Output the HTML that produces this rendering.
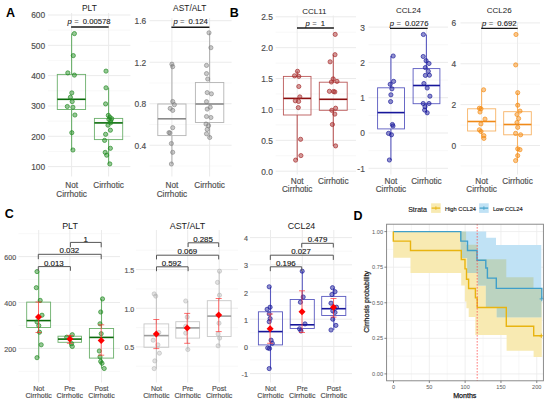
<!DOCTYPE html><html><head><meta charset="utf-8"><style>html,body{margin:0;padding:0;background:#fff;}svg{display:block;}text{font-family:"Liberation Sans", sans-serif;}</style></head><body>
<svg width="550" height="405" viewBox="0 0 550 405">
<rect width="550" height="405" fill="#fff"/>
<text x="6.0" y="16.8" font-size="12.5" text-anchor="start" fill="#000" font-weight="bold" font-style="normal" >A</text>
<text x="229.8" y="17.3" font-size="12.5" text-anchor="start" fill="#000" font-weight="bold" font-style="normal" >B</text>
<text x="4.8" y="218.0" font-size="12.5" text-anchor="start" fill="#000" font-weight="bold" font-style="normal" >C</text>
<text x="353.6" y="219.6" font-size="12.5" text-anchor="start" fill="#000" font-weight="bold" font-style="normal" >D</text>
<line x1="48" y1="151.44" x2="130.4" y2="151.44" stroke="#f4f4f4" stroke-width="0.6" />
<line x1="48" y1="121.12" x2="130.4" y2="121.12" stroke="#f4f4f4" stroke-width="0.6" />
<line x1="48" y1="90.80000000000001" x2="130.4" y2="90.80000000000001" stroke="#f4f4f4" stroke-width="0.6" />
<line x1="48" y1="60.480000000000004" x2="130.4" y2="60.480000000000004" stroke="#f4f4f4" stroke-width="0.6" />
<line x1="48" y1="30.160000000000004" x2="130.4" y2="30.160000000000004" stroke="#f4f4f4" stroke-width="0.6" />
<line x1="48" y1="166.60000000000002" x2="130.4" y2="166.60000000000002" stroke="#ebebeb" stroke-width="1" />
<line x1="48" y1="136.28000000000003" x2="130.4" y2="136.28000000000003" stroke="#ebebeb" stroke-width="1" />
<line x1="48" y1="105.96000000000001" x2="130.4" y2="105.96000000000001" stroke="#ebebeb" stroke-width="1" />
<line x1="48" y1="75.64000000000001" x2="130.4" y2="75.64000000000001" stroke="#ebebeb" stroke-width="1" />
<line x1="48" y1="45.32000000000001" x2="130.4" y2="45.32000000000001" stroke="#ebebeb" stroke-width="1" />
<line x1="48" y1="15.0" x2="130.4" y2="15.0" stroke="#ebebeb" stroke-width="1" />
<line x1="71.6" y1="13" x2="71.6" y2="176.5" stroke="#ebebeb" stroke-width="1" />
<line x1="108.6" y1="13" x2="108.6" y2="176.5" stroke="#ebebeb" stroke-width="1" />
<text x="45.2" y="170.0" font-size="8.4" text-anchor="end" fill="#4d4d4d" font-weight="normal" font-style="normal"  stroke="#4d4d4d" stroke-width="0.15">100</text>
<text x="45.2" y="139.68" font-size="8.4" text-anchor="end" fill="#4d4d4d" font-weight="normal" font-style="normal"  stroke="#4d4d4d" stroke-width="0.15">200</text>
<text x="45.2" y="109.36" font-size="8.4" text-anchor="end" fill="#4d4d4d" font-weight="normal" font-style="normal"  stroke="#4d4d4d" stroke-width="0.15">300</text>
<text x="45.2" y="79.04" font-size="8.4" text-anchor="end" fill="#4d4d4d" font-weight="normal" font-style="normal"  stroke="#4d4d4d" stroke-width="0.15">400</text>
<text x="45.2" y="48.72" font-size="8.4" text-anchor="end" fill="#4d4d4d" font-weight="normal" font-style="normal"  stroke="#4d4d4d" stroke-width="0.15">500</text>
<text x="45.2" y="18.4" font-size="8.4" text-anchor="end" fill="#4d4d4d" font-weight="normal" font-style="normal"  stroke="#4d4d4d" stroke-width="0.15">600</text>
<line x1="71.6" y1="33.6" x2="71.6" y2="74.4" stroke="#6cb06c" stroke-width="1.1" />
<line x1="71.6" y1="109.5" x2="71.6" y2="150" stroke="#6cb06c" stroke-width="1.1" />
<rect x="57.3" y="74.4" width="28.299999999999997" height="35.099999999999994" fill="none" stroke="#6cb06c" stroke-width="0.9"/>
<line x1="57.3" y1="99.3" x2="85.6" y2="99.3" stroke="#0b6b0b" stroke-width="1.6" />
<line x1="108.6" y1="87.8" x2="108.6" y2="118.4" stroke="#6cb06c" stroke-width="1.1" />
<line x1="108.6" y1="139.6" x2="108.6" y2="163.8" stroke="#6cb06c" stroke-width="1.1" />
<rect x="94.4" y="118.4" width="28.299999999999997" height="21.19999999999999" fill="none" stroke="#6cb06c" stroke-width="0.9"/>
<line x1="94.4" y1="122.9" x2="122.7" y2="122.9" stroke="#0b6b0b" stroke-width="1.6" />
<circle cx="74.4" cy="33.6" r="2.1" fill="#228b22" fill-opacity="0.48" stroke="#228b22" stroke-opacity="0.75" stroke-width="0.9"/>
<circle cx="73.3" cy="55.6" r="2.1" fill="#228b22" fill-opacity="0.48" stroke="#228b22" stroke-opacity="0.75" stroke-width="0.9"/>
<circle cx="67.8" cy="72.9" r="2.1" fill="#228b22" fill-opacity="0.48" stroke="#228b22" stroke-opacity="0.75" stroke-width="0.9"/>
<circle cx="74.4" cy="75.1" r="2.1" fill="#228b22" fill-opacity="0.48" stroke="#228b22" stroke-opacity="0.75" stroke-width="0.9"/>
<circle cx="71.8" cy="92.9" r="2.1" fill="#228b22" fill-opacity="0.48" stroke="#228b22" stroke-opacity="0.75" stroke-width="0.9"/>
<circle cx="70.4" cy="97.3" r="2.1" fill="#228b22" fill-opacity="0.48" stroke="#228b22" stroke-opacity="0.75" stroke-width="0.9"/>
<circle cx="72.2" cy="101.6" r="2.1" fill="#228b22" fill-opacity="0.48" stroke="#228b22" stroke-opacity="0.75" stroke-width="0.9"/>
<circle cx="67.3" cy="106.5" r="2.1" fill="#228b22" fill-opacity="0.48" stroke="#228b22" stroke-opacity="0.75" stroke-width="0.9"/>
<circle cx="72.9" cy="107.3" r="2.1" fill="#228b22" fill-opacity="0.48" stroke="#228b22" stroke-opacity="0.75" stroke-width="0.9"/>
<circle cx="74.9" cy="115" r="2.1" fill="#228b22" fill-opacity="0.48" stroke="#228b22" stroke-opacity="0.75" stroke-width="0.9"/>
<circle cx="71.8" cy="132.7" r="2.1" fill="#228b22" fill-opacity="0.48" stroke="#228b22" stroke-opacity="0.75" stroke-width="0.9"/>
<circle cx="72.9" cy="150" r="2.1" fill="#228b22" fill-opacity="0.48" stroke="#228b22" stroke-opacity="0.75" stroke-width="0.9"/>
<circle cx="106" cy="71.1" r="2.1" fill="#228b22" fill-opacity="0.48" stroke="#228b22" stroke-opacity="0.75" stroke-width="0.9"/>
<circle cx="106" cy="87.8" r="2.1" fill="#228b22" fill-opacity="0.48" stroke="#228b22" stroke-opacity="0.75" stroke-width="0.9"/>
<circle cx="105.6" cy="103.9" r="2.1" fill="#228b22" fill-opacity="0.48" stroke="#228b22" stroke-opacity="0.75" stroke-width="0.9"/>
<circle cx="108.3" cy="115.4" r="2.1" fill="#228b22" fill-opacity="0.48" stroke="#228b22" stroke-opacity="0.75" stroke-width="0.9"/>
<circle cx="109.8" cy="117.2" r="2.1" fill="#228b22" fill-opacity="0.48" stroke="#228b22" stroke-opacity="0.75" stroke-width="0.9"/>
<circle cx="111.7" cy="118.7" r="2.1" fill="#228b22" fill-opacity="0.48" stroke="#228b22" stroke-opacity="0.75" stroke-width="0.9"/>
<circle cx="108.9" cy="119.4" r="2.1" fill="#228b22" fill-opacity="0.48" stroke="#228b22" stroke-opacity="0.75" stroke-width="0.9"/>
<circle cx="110.7" cy="120.9" r="2.1" fill="#228b22" fill-opacity="0.48" stroke="#228b22" stroke-opacity="0.75" stroke-width="0.9"/>
<circle cx="110.7" cy="122.8" r="2.1" fill="#228b22" fill-opacity="0.48" stroke="#228b22" stroke-opacity="0.75" stroke-width="0.9"/>
<circle cx="108" cy="125.2" r="2.1" fill="#228b22" fill-opacity="0.48" stroke="#228b22" stroke-opacity="0.75" stroke-width="0.9"/>
<circle cx="110.4" cy="130.2" r="2.1" fill="#228b22" fill-opacity="0.48" stroke="#228b22" stroke-opacity="0.75" stroke-width="0.9"/>
<circle cx="105.6" cy="134.3" r="2.1" fill="#228b22" fill-opacity="0.48" stroke="#228b22" stroke-opacity="0.75" stroke-width="0.9"/>
<circle cx="104.6" cy="140.4" r="2.1" fill="#228b22" fill-opacity="0.48" stroke="#228b22" stroke-opacity="0.75" stroke-width="0.9"/>
<circle cx="110.4" cy="148.3" r="2.1" fill="#228b22" fill-opacity="0.48" stroke="#228b22" stroke-opacity="0.75" stroke-width="0.9"/>
<circle cx="105.2" cy="152.4" r="2.1" fill="#228b22" fill-opacity="0.48" stroke="#228b22" stroke-opacity="0.75" stroke-width="0.9"/>
<circle cx="106.7" cy="155.2" r="2.1" fill="#228b22" fill-opacity="0.48" stroke="#228b22" stroke-opacity="0.75" stroke-width="0.9"/>
<circle cx="109.8" cy="163.9" r="2.1" fill="#228b22" fill-opacity="0.48" stroke="#228b22" stroke-opacity="0.75" stroke-width="0.9"/>
<text x="89.4" y="11.3" font-size="8.4" text-anchor="middle" fill="#1a1a1a" font-weight="normal" font-style="normal"  >PLT</text>
<text x="67.6" y="24.0" font-size="7.7" fill="#1a1a1a" font-style="italic" stroke="#1a1a1a" stroke-width="0.1">p</text>
<text x="74.3" y="24.0" font-size="7.7" fill="#555">=</text>
<text x="82.8" y="24.0" font-size="7.7" fill="#1a1a1a" stroke="#1a1a1a" stroke-width="0.1">0.00578</text>
<line x1="71.1" y1="27" x2="108.7" y2="27" stroke="#1a1a1a" stroke-width="1.4" />
<text x="71.6" y="187.6" font-size="8.2" text-anchor="middle" fill="#4d4d4d" font-weight="normal" font-style="normal"  stroke="#4d4d4d" stroke-width="0.15">Not</text>
<text x="71.6" y="196.6" font-size="8.2" text-anchor="middle" fill="#4d4d4d" font-weight="normal" font-style="normal"  stroke="#4d4d4d" stroke-width="0.15">Cirrhotic</text>
<text x="108.6" y="187.6" font-size="8.2" text-anchor="middle" fill="#4d4d4d" font-weight="normal" font-style="normal"  stroke="#4d4d4d" stroke-width="0.15">Cirrhotic</text>
<line x1="149.5" y1="166.02" x2="231.6" y2="166.02" stroke="#f4f4f4" stroke-width="0.6" />
<line x1="149.5" y1="124.5" x2="231.6" y2="124.5" stroke="#f4f4f4" stroke-width="0.6" />
<line x1="149.5" y1="82.98" x2="231.6" y2="82.98" stroke="#f4f4f4" stroke-width="0.6" />
<line x1="149.5" y1="41.46000000000002" x2="231.6" y2="41.46000000000002" stroke="#f4f4f4" stroke-width="0.6" />
<line x1="149.5" y1="145.26000000000002" x2="231.6" y2="145.26000000000002" stroke="#ebebeb" stroke-width="1" />
<line x1="149.5" y1="103.74000000000001" x2="231.6" y2="103.74000000000001" stroke="#ebebeb" stroke-width="1" />
<line x1="149.5" y1="62.22000000000001" x2="231.6" y2="62.22000000000001" stroke="#ebebeb" stroke-width="1" />
<line x1="149.5" y1="20.7" x2="231.6" y2="20.7" stroke="#ebebeb" stroke-width="1" />
<line x1="171.9" y1="18" x2="171.9" y2="176.5" stroke="#ebebeb" stroke-width="1" />
<line x1="209.6" y1="18" x2="209.6" y2="176.5" stroke="#ebebeb" stroke-width="1" />
<text x="146.2" y="148.66" font-size="8.4" text-anchor="end" fill="#4d4d4d" font-weight="normal" font-style="normal"  stroke="#4d4d4d" stroke-width="0.15">0.4</text>
<text x="146.2" y="107.14" font-size="8.4" text-anchor="end" fill="#4d4d4d" font-weight="normal" font-style="normal"  stroke="#4d4d4d" stroke-width="0.15">0.8</text>
<text x="146.2" y="65.62" font-size="8.4" text-anchor="end" fill="#4d4d4d" font-weight="normal" font-style="normal"  stroke="#4d4d4d" stroke-width="0.15">1.2</text>
<text x="146.2" y="24.1" font-size="8.4" text-anchor="end" fill="#4d4d4d" font-weight="normal" font-style="normal"  stroke="#4d4d4d" stroke-width="0.15">1.6</text>
<line x1="171.9" y1="64.2" x2="171.9" y2="104" stroke="#b4b4b4" stroke-width="1.1" />
<line x1="171.9" y1="135.6" x2="171.9" y2="164" stroke="#b4b4b4" stroke-width="1.1" />
<rect x="157.8" y="104" width="28.19999999999999" height="31.599999999999994" fill="none" stroke="#b4b4b4" stroke-width="0.9"/>
<line x1="157.8" y1="118.8" x2="186" y2="118.8" stroke="#8a8a8a" stroke-width="1.6" />
<line x1="209.6" y1="32.8" x2="209.6" y2="82.5" stroke="#b4b4b4" stroke-width="1.1" />
<line x1="209.6" y1="122.5" x2="209.6" y2="137.5" stroke="#b4b4b4" stroke-width="1.1" />
<rect x="195.4" y="82.5" width="28.400000000000006" height="40.0" fill="none" stroke="#b4b4b4" stroke-width="0.9"/>
<line x1="195.4" y1="104" x2="223.8" y2="104" stroke="#8a8a8a" stroke-width="1.6" />
<circle cx="171.9" cy="64.2" r="2.1" fill="#7a7a7a" fill-opacity="0.4" stroke="#7a7a7a" stroke-opacity="0.625" stroke-width="0.9"/>
<circle cx="172.7" cy="66.7" r="2.1" fill="#7a7a7a" fill-opacity="0.4" stroke="#7a7a7a" stroke-opacity="0.625" stroke-width="0.9"/>
<circle cx="172.7" cy="101.5" r="2.1" fill="#7a7a7a" fill-opacity="0.4" stroke="#7a7a7a" stroke-opacity="0.625" stroke-width="0.9"/>
<circle cx="174.4" cy="104.7" r="2.1" fill="#7a7a7a" fill-opacity="0.4" stroke="#7a7a7a" stroke-opacity="0.625" stroke-width="0.9"/>
<circle cx="170.2" cy="108.4" r="2.1" fill="#7a7a7a" fill-opacity="0.4" stroke="#7a7a7a" stroke-opacity="0.625" stroke-width="0.9"/>
<circle cx="172.7" cy="110.4" r="2.1" fill="#7a7a7a" fill-opacity="0.4" stroke="#7a7a7a" stroke-opacity="0.625" stroke-width="0.9"/>
<circle cx="172.7" cy="127.7" r="2.1" fill="#7a7a7a" fill-opacity="0.4" stroke="#7a7a7a" stroke-opacity="0.625" stroke-width="0.9"/>
<circle cx="169" cy="132.6" r="2.1" fill="#7a7a7a" fill-opacity="0.4" stroke="#7a7a7a" stroke-opacity="0.625" stroke-width="0.9"/>
<circle cx="170" cy="133" r="2.1" fill="#7a7a7a" fill-opacity="0.4" stroke="#7a7a7a" stroke-opacity="0.625" stroke-width="0.9"/>
<circle cx="171.4" cy="143.5" r="2.1" fill="#7a7a7a" fill-opacity="0.4" stroke="#7a7a7a" stroke-opacity="0.625" stroke-width="0.9"/>
<circle cx="172.7" cy="152.3" r="2.1" fill="#7a7a7a" fill-opacity="0.4" stroke="#7a7a7a" stroke-opacity="0.625" stroke-width="0.9"/>
<circle cx="171.4" cy="164" r="2.1" fill="#7a7a7a" fill-opacity="0.4" stroke="#7a7a7a" stroke-opacity="0.625" stroke-width="0.9"/>
<circle cx="209" cy="32.8" r="2.1" fill="#7a7a7a" fill-opacity="0.4" stroke="#7a7a7a" stroke-opacity="0.625" stroke-width="0.9"/>
<circle cx="210.9" cy="47.7" r="2.1" fill="#7a7a7a" fill-opacity="0.4" stroke="#7a7a7a" stroke-opacity="0.625" stroke-width="0.9"/>
<circle cx="206.5" cy="65.4" r="2.1" fill="#7a7a7a" fill-opacity="0.4" stroke="#7a7a7a" stroke-opacity="0.625" stroke-width="0.9"/>
<circle cx="206.5" cy="73.6" r="2.1" fill="#7a7a7a" fill-opacity="0.4" stroke="#7a7a7a" stroke-opacity="0.625" stroke-width="0.9"/>
<circle cx="207.7" cy="79" r="2.1" fill="#7a7a7a" fill-opacity="0.4" stroke="#7a7a7a" stroke-opacity="0.625" stroke-width="0.9"/>
<circle cx="207.2" cy="92.6" r="2.1" fill="#7a7a7a" fill-opacity="0.4" stroke="#7a7a7a" stroke-opacity="0.625" stroke-width="0.9"/>
<circle cx="211.4" cy="93.8" r="2.1" fill="#7a7a7a" fill-opacity="0.4" stroke="#7a7a7a" stroke-opacity="0.625" stroke-width="0.9"/>
<circle cx="206.5" cy="101.7" r="2.1" fill="#7a7a7a" fill-opacity="0.4" stroke="#7a7a7a" stroke-opacity="0.625" stroke-width="0.9"/>
<circle cx="210.2" cy="107.2" r="2.1" fill="#7a7a7a" fill-opacity="0.4" stroke="#7a7a7a" stroke-opacity="0.625" stroke-width="0.9"/>
<circle cx="207.2" cy="109.1" r="2.1" fill="#7a7a7a" fill-opacity="0.4" stroke="#7a7a7a" stroke-opacity="0.625" stroke-width="0.9"/>
<circle cx="206.5" cy="116.5" r="2.1" fill="#7a7a7a" fill-opacity="0.4" stroke="#7a7a7a" stroke-opacity="0.625" stroke-width="0.9"/>
<circle cx="210.9" cy="117.5" r="2.1" fill="#7a7a7a" fill-opacity="0.4" stroke="#7a7a7a" stroke-opacity="0.625" stroke-width="0.9"/>
<circle cx="206" cy="124" r="2.1" fill="#7a7a7a" fill-opacity="0.4" stroke="#7a7a7a" stroke-opacity="0.625" stroke-width="0.9"/>
<circle cx="208.5" cy="125.7" r="2.1" fill="#7a7a7a" fill-opacity="0.4" stroke="#7a7a7a" stroke-opacity="0.625" stroke-width="0.9"/>
<circle cx="207.2" cy="129.4" r="2.1" fill="#7a7a7a" fill-opacity="0.4" stroke="#7a7a7a" stroke-opacity="0.625" stroke-width="0.9"/>
<circle cx="206.5" cy="133.8" r="2.1" fill="#7a7a7a" fill-opacity="0.4" stroke="#7a7a7a" stroke-opacity="0.625" stroke-width="0.9"/>
<circle cx="209.7" cy="137.5" r="2.1" fill="#7a7a7a" fill-opacity="0.4" stroke="#7a7a7a" stroke-opacity="0.625" stroke-width="0.9"/>
<text x="189.8" y="11.2" font-size="8.4" text-anchor="middle" fill="#1a1a1a" font-weight="normal" font-style="normal"  >AST/ALT</text>
<text x="173.4" y="23.8" font-size="7.7" fill="#1a1a1a" font-style="italic" stroke="#1a1a1a" stroke-width="0.1">p</text>
<text x="180.1" y="23.8" font-size="7.7" fill="#555">=</text>
<text x="188.6" y="23.8" font-size="7.7" fill="#1a1a1a" stroke="#1a1a1a" stroke-width="0.1">0.124</text>
<line x1="171.4" y1="27.2" x2="209.4" y2="27.2" stroke="#1a1a1a" stroke-width="1.4" />
<text x="171.9" y="187.6" font-size="8.2" text-anchor="middle" fill="#4d4d4d" font-weight="normal" font-style="normal"  stroke="#4d4d4d" stroke-width="0.15">Not</text>
<text x="171.9" y="196.6" font-size="8.2" text-anchor="middle" fill="#4d4d4d" font-weight="normal" font-style="normal"  stroke="#4d4d4d" stroke-width="0.15">Cirrhotic</text>
<text x="209.6" y="187.6" font-size="8.2" text-anchor="middle" fill="#4d4d4d" font-weight="normal" font-style="normal"  stroke="#4d4d4d" stroke-width="0.15">Cirrhotic</text>
<line x1="275.6" y1="155.76000000000002" x2="356" y2="155.76000000000002" stroke="#f4f4f4" stroke-width="0.6" />
<line x1="275.6" y1="124.88" x2="356" y2="124.88" stroke="#f4f4f4" stroke-width="0.6" />
<line x1="275.6" y1="94.0" x2="356" y2="94.0" stroke="#f4f4f4" stroke-width="0.6" />
<line x1="275.6" y1="63.120000000000005" x2="356" y2="63.120000000000005" stroke="#f4f4f4" stroke-width="0.6" />
<line x1="275.6" y1="32.24" x2="356" y2="32.24" stroke="#f4f4f4" stroke-width="0.6" />
<line x1="275.6" y1="171.20000000000002" x2="356" y2="171.20000000000002" stroke="#ebebeb" stroke-width="1" />
<line x1="275.6" y1="140.32" x2="356" y2="140.32" stroke="#ebebeb" stroke-width="1" />
<line x1="275.6" y1="109.44" x2="356" y2="109.44" stroke="#ebebeb" stroke-width="1" />
<line x1="275.6" y1="78.56" x2="356" y2="78.56" stroke="#ebebeb" stroke-width="1" />
<line x1="275.6" y1="47.68" x2="356" y2="47.68" stroke="#ebebeb" stroke-width="1" />
<line x1="275.6" y1="16.8" x2="356" y2="16.8" stroke="#ebebeb" stroke-width="1" />
<line x1="297.2" y1="15.5" x2="297.2" y2="174.5" stroke="#ebebeb" stroke-width="1" />
<line x1="333.3" y1="15.5" x2="333.3" y2="174.5" stroke="#ebebeb" stroke-width="1" />
<text x="272.8" y="174.6" font-size="8.4" text-anchor="end" fill="#4d4d4d" font-weight="normal" font-style="normal"  stroke="#4d4d4d" stroke-width="0.15">0.0</text>
<text x="272.8" y="143.72" font-size="8.4" text-anchor="end" fill="#4d4d4d" font-weight="normal" font-style="normal"  stroke="#4d4d4d" stroke-width="0.15">0.5</text>
<text x="272.8" y="112.84" font-size="8.4" text-anchor="end" fill="#4d4d4d" font-weight="normal" font-style="normal"  stroke="#4d4d4d" stroke-width="0.15">1.0</text>
<text x="272.8" y="81.96" font-size="8.4" text-anchor="end" fill="#4d4d4d" font-weight="normal" font-style="normal"  stroke="#4d4d4d" stroke-width="0.15">1.5</text>
<text x="272.8" y="51.08" font-size="8.4" text-anchor="end" fill="#4d4d4d" font-weight="normal" font-style="normal"  stroke="#4d4d4d" stroke-width="0.15">2.0</text>
<text x="272.8" y="20.2" font-size="8.4" text-anchor="end" fill="#4d4d4d" font-weight="normal" font-style="normal"  stroke="#4d4d4d" stroke-width="0.15">2.5</text>
<line x1="297.2" y1="71.3" x2="297.2" y2="76.4" stroke="#bb5a5a" stroke-width="1.1" />
<line x1="297.2" y1="115" x2="297.2" y2="160" stroke="#bb5a5a" stroke-width="1.1" />
<rect x="283.4" y="76.4" width="27.600000000000023" height="38.599999999999994" fill="none" stroke="#bb5a5a" stroke-width="0.9"/>
<line x1="283.4" y1="98.4" x2="311" y2="98.4" stroke="#8b1010" stroke-width="1.6" />
<line x1="333.3" y1="54.7" x2="333.3" y2="82.2" stroke="#bb5a5a" stroke-width="1.1" />
<line x1="333.3" y1="110.3" x2="333.3" y2="145.9" stroke="#bb5a5a" stroke-width="1.1" />
<rect x="319.3" y="82.2" width="27.899999999999977" height="28.099999999999994" fill="none" stroke="#bb5a5a" stroke-width="0.9"/>
<line x1="319.3" y1="99.3" x2="347.2" y2="99.3" stroke="#8b1010" stroke-width="1.6" />
<circle cx="297.5" cy="71.3" r="2.1" fill="#a52a2a" fill-opacity="0.48" stroke="#a52a2a" stroke-opacity="0.75" stroke-width="0.9"/>
<circle cx="294.5" cy="75.8" r="2.1" fill="#a52a2a" fill-opacity="0.48" stroke="#a52a2a" stroke-opacity="0.75" stroke-width="0.9"/>
<circle cx="298.8" cy="76.4" r="2.1" fill="#a52a2a" fill-opacity="0.48" stroke="#a52a2a" stroke-opacity="0.75" stroke-width="0.9"/>
<circle cx="298.8" cy="86.5" r="2.1" fill="#a52a2a" fill-opacity="0.48" stroke="#a52a2a" stroke-opacity="0.75" stroke-width="0.9"/>
<circle cx="299.8" cy="96.9" r="2.1" fill="#a52a2a" fill-opacity="0.48" stroke="#a52a2a" stroke-opacity="0.75" stroke-width="0.9"/>
<circle cx="295.3" cy="100.8" r="2.1" fill="#a52a2a" fill-opacity="0.48" stroke="#a52a2a" stroke-opacity="0.75" stroke-width="0.9"/>
<circle cx="298.6" cy="101.4" r="2.1" fill="#a52a2a" fill-opacity="0.48" stroke="#a52a2a" stroke-opacity="0.75" stroke-width="0.9"/>
<circle cx="298.3" cy="107.6" r="2.1" fill="#a52a2a" fill-opacity="0.48" stroke="#a52a2a" stroke-opacity="0.75" stroke-width="0.9"/>
<circle cx="300.6" cy="139.3" r="2.1" fill="#a52a2a" fill-opacity="0.48" stroke="#a52a2a" stroke-opacity="0.75" stroke-width="0.9"/>
<circle cx="300.9" cy="155.6" r="2.1" fill="#a52a2a" fill-opacity="0.48" stroke="#a52a2a" stroke-opacity="0.75" stroke-width="0.9"/>
<circle cx="295.6" cy="160.1" r="2.1" fill="#a52a2a" fill-opacity="0.48" stroke="#a52a2a" stroke-opacity="0.75" stroke-width="0.9"/>
<circle cx="335.2" cy="34.4" r="2.1" fill="#a52a2a" fill-opacity="0.48" stroke="#a52a2a" stroke-opacity="0.75" stroke-width="0.9"/>
<circle cx="335" cy="54.7" r="2.1" fill="#a52a2a" fill-opacity="0.48" stroke="#a52a2a" stroke-opacity="0.75" stroke-width="0.9"/>
<circle cx="330.1" cy="61.8" r="2.1" fill="#a52a2a" fill-opacity="0.48" stroke="#a52a2a" stroke-opacity="0.75" stroke-width="0.9"/>
<circle cx="333.2" cy="78.9" r="2.1" fill="#a52a2a" fill-opacity="0.48" stroke="#a52a2a" stroke-opacity="0.75" stroke-width="0.9"/>
<circle cx="337" cy="81.4" r="2.1" fill="#a52a2a" fill-opacity="0.48" stroke="#a52a2a" stroke-opacity="0.75" stroke-width="0.9"/>
<circle cx="331.4" cy="82" r="2.1" fill="#a52a2a" fill-opacity="0.48" stroke="#a52a2a" stroke-opacity="0.75" stroke-width="0.9"/>
<circle cx="329.4" cy="91.3" r="2.1" fill="#a52a2a" fill-opacity="0.48" stroke="#a52a2a" stroke-opacity="0.75" stroke-width="0.9"/>
<circle cx="334.8" cy="91.9" r="2.1" fill="#a52a2a" fill-opacity="0.48" stroke="#a52a2a" stroke-opacity="0.75" stroke-width="0.9"/>
<circle cx="333.5" cy="91.5" r="2.1" fill="#a52a2a" fill-opacity="0.48" stroke="#a52a2a" stroke-opacity="0.75" stroke-width="0.9"/>
<circle cx="335.6" cy="108.2" r="2.1" fill="#a52a2a" fill-opacity="0.48" stroke="#a52a2a" stroke-opacity="0.75" stroke-width="0.9"/>
<circle cx="331.8" cy="110.3" r="2.1" fill="#a52a2a" fill-opacity="0.48" stroke="#a52a2a" stroke-opacity="0.75" stroke-width="0.9"/>
<circle cx="334.8" cy="114.1" r="2.1" fill="#a52a2a" fill-opacity="0.48" stroke="#a52a2a" stroke-opacity="0.75" stroke-width="0.9"/>
<circle cx="332.4" cy="124.5" r="2.1" fill="#a52a2a" fill-opacity="0.48" stroke="#a52a2a" stroke-opacity="0.75" stroke-width="0.9"/>
<circle cx="335.6" cy="145.9" r="2.1" fill="#a52a2a" fill-opacity="0.48" stroke="#a52a2a" stroke-opacity="0.75" stroke-width="0.9"/>
<text x="314.4" y="13.6" font-size="8.0" text-anchor="middle" fill="#1a1a1a" font-weight="normal" font-style="normal"  >CCL11</text>
<text x="305.6" y="25.8" font-size="7.7" fill="#1a1a1a" font-style="italic" stroke="#1a1a1a" stroke-width="0.1">p</text>
<text x="312.3" y="25.8" font-size="7.7" fill="#555">=</text>
<text x="320.8" y="25.8" font-size="7.7" fill="#1a1a1a" stroke="#1a1a1a" stroke-width="0.1">1</text>
<line x1="297" y1="28" x2="333.9" y2="28" stroke="#1a1a1a" stroke-width="1.4" />
<text x="297.2" y="184.0" font-size="8.2" text-anchor="middle" fill="#4d4d4d" font-weight="normal" font-style="normal"  stroke="#4d4d4d" stroke-width="0.15">Not</text>
<text x="297.2" y="192.0" font-size="8.2" text-anchor="middle" fill="#4d4d4d" font-weight="normal" font-style="normal"  stroke="#4d4d4d" stroke-width="0.15">Cirrhotic</text>
<text x="333.3" y="184.0" font-size="8.2" text-anchor="middle" fill="#4d4d4d" font-weight="normal" font-style="normal"  stroke="#4d4d4d" stroke-width="0.15">Cirrhotic</text>
<line x1="368.5" y1="150.64999999999998" x2="448" y2="150.64999999999998" stroke="#f4f4f4" stroke-width="0.6" />
<line x1="368.5" y1="115.35" x2="448" y2="115.35" stroke="#f4f4f4" stroke-width="0.6" />
<line x1="368.5" y1="80.05" x2="448" y2="80.05" stroke="#f4f4f4" stroke-width="0.6" />
<line x1="368.5" y1="44.75" x2="448" y2="44.75" stroke="#f4f4f4" stroke-width="0.6" />
<line x1="368.5" y1="168.29999999999998" x2="448" y2="168.29999999999998" stroke="#ebebeb" stroke-width="1" />
<line x1="368.5" y1="133.0" x2="448" y2="133.0" stroke="#ebebeb" stroke-width="1" />
<line x1="368.5" y1="97.69999999999999" x2="448" y2="97.69999999999999" stroke="#ebebeb" stroke-width="1" />
<line x1="368.5" y1="62.4" x2="448" y2="62.4" stroke="#ebebeb" stroke-width="1" />
<line x1="368.5" y1="27.1" x2="448" y2="27.1" stroke="#ebebeb" stroke-width="1" />
<line x1="390.9" y1="26.5" x2="390.9" y2="174.5" stroke="#ebebeb" stroke-width="1" />
<line x1="426.4" y1="26.5" x2="426.4" y2="174.5" stroke="#ebebeb" stroke-width="1" />
<text x="364.8" y="171.7" font-size="8.4" text-anchor="end" fill="#4d4d4d" font-weight="normal" font-style="normal"  stroke="#4d4d4d" stroke-width="0.15">-1</text>
<text x="364.8" y="136.4" font-size="8.4" text-anchor="end" fill="#4d4d4d" font-weight="normal" font-style="normal"  stroke="#4d4d4d" stroke-width="0.15">0</text>
<text x="364.8" y="101.1" font-size="8.4" text-anchor="end" fill="#4d4d4d" font-weight="normal" font-style="normal"  stroke="#4d4d4d" stroke-width="0.15">1</text>
<text x="364.8" y="65.8" font-size="8.4" text-anchor="end" fill="#4d4d4d" font-weight="normal" font-style="normal"  stroke="#4d4d4d" stroke-width="0.15">2</text>
<text x="364.8" y="30.5" font-size="8.4" text-anchor="end" fill="#4d4d4d" font-weight="normal" font-style="normal"  stroke="#4d4d4d" stroke-width="0.15">3</text>
<line x1="390.9" y1="56" x2="390.9" y2="87.8" stroke="#5a5ac0" stroke-width="1.1" />
<line x1="390.9" y1="128.9" x2="390.9" y2="160" stroke="#5a5ac0" stroke-width="1.1" />
<rect x="377.6" y="87.8" width="26.899999999999977" height="41.10000000000001" fill="none" stroke="#5a5ac0" stroke-width="0.9"/>
<line x1="377.6" y1="112.6" x2="404.5" y2="112.6" stroke="#16169a" stroke-width="1.6" />
<line x1="426.4" y1="34.5" x2="426.4" y2="68.6" stroke="#5a5ac0" stroke-width="1.1" />
<line x1="426.4" y1="103.7" x2="426.4" y2="113.2" stroke="#5a5ac0" stroke-width="1.1" />
<rect x="413.1" y="68.6" width="26.799999999999955" height="35.10000000000001" fill="none" stroke="#5a5ac0" stroke-width="0.9"/>
<line x1="413.1" y1="85.5" x2="439.9" y2="85.5" stroke="#16169a" stroke-width="1.6" />
<circle cx="393.2" cy="56" r="2.1" fill="#1a1a9a" fill-opacity="0.48" stroke="#1a1a9a" stroke-opacity="0.75" stroke-width="0.9"/>
<circle cx="393.6" cy="81.4" r="2.1" fill="#1a1a9a" fill-opacity="0.48" stroke="#1a1a9a" stroke-opacity="0.75" stroke-width="0.9"/>
<circle cx="390.2" cy="84.3" r="2.1" fill="#1a1a9a" fill-opacity="0.48" stroke="#1a1a9a" stroke-opacity="0.75" stroke-width="0.9"/>
<circle cx="391.9" cy="88.8" r="2.1" fill="#1a1a9a" fill-opacity="0.48" stroke="#1a1a9a" stroke-opacity="0.75" stroke-width="0.9"/>
<circle cx="390.9" cy="94.8" r="2.1" fill="#1a1a9a" fill-opacity="0.48" stroke="#1a1a9a" stroke-opacity="0.75" stroke-width="0.9"/>
<circle cx="390.6" cy="101.6" r="2.1" fill="#1a1a9a" fill-opacity="0.48" stroke="#1a1a9a" stroke-opacity="0.75" stroke-width="0.9"/>
<circle cx="392.4" cy="124.5" r="2.1" fill="#1a1a9a" fill-opacity="0.48" stroke="#1a1a9a" stroke-opacity="0.75" stroke-width="0.9"/>
<circle cx="393" cy="126" r="2.1" fill="#1a1a9a" fill-opacity="0.48" stroke="#1a1a9a" stroke-opacity="0.75" stroke-width="0.9"/>
<circle cx="388.5" cy="133.4" r="2.1" fill="#1a1a9a" fill-opacity="0.48" stroke="#1a1a9a" stroke-opacity="0.75" stroke-width="0.9"/>
<circle cx="391.5" cy="134.8" r="2.1" fill="#1a1a9a" fill-opacity="0.48" stroke="#1a1a9a" stroke-opacity="0.75" stroke-width="0.9"/>
<circle cx="389.4" cy="160" r="2.1" fill="#1a1a9a" fill-opacity="0.48" stroke="#1a1a9a" stroke-opacity="0.75" stroke-width="0.9"/>
<circle cx="423.4" cy="34.5" r="2.1" fill="#1a1a9a" fill-opacity="0.48" stroke="#1a1a9a" stroke-opacity="0.75" stroke-width="0.9"/>
<circle cx="423.2" cy="56.5" r="2.1" fill="#1a1a9a" fill-opacity="0.48" stroke="#1a1a9a" stroke-opacity="0.75" stroke-width="0.9"/>
<circle cx="426.1" cy="60.7" r="2.1" fill="#1a1a9a" fill-opacity="0.48" stroke="#1a1a9a" stroke-opacity="0.75" stroke-width="0.9"/>
<circle cx="429" cy="63.5" r="2.1" fill="#1a1a9a" fill-opacity="0.48" stroke="#1a1a9a" stroke-opacity="0.75" stroke-width="0.9"/>
<circle cx="425.4" cy="67.6" r="2.1" fill="#1a1a9a" fill-opacity="0.48" stroke="#1a1a9a" stroke-opacity="0.75" stroke-width="0.9"/>
<circle cx="428.3" cy="71.3" r="2.1" fill="#1a1a9a" fill-opacity="0.48" stroke="#1a1a9a" stroke-opacity="0.75" stroke-width="0.9"/>
<circle cx="425.4" cy="75.4" r="2.1" fill="#1a1a9a" fill-opacity="0.48" stroke="#1a1a9a" stroke-opacity="0.75" stroke-width="0.9"/>
<circle cx="429.4" cy="75.2" r="2.1" fill="#1a1a9a" fill-opacity="0.48" stroke="#1a1a9a" stroke-opacity="0.75" stroke-width="0.9"/>
<circle cx="423.9" cy="83.5" r="2.1" fill="#1a1a9a" fill-opacity="0.48" stroke="#1a1a9a" stroke-opacity="0.75" stroke-width="0.9"/>
<circle cx="427.2" cy="88" r="2.1" fill="#1a1a9a" fill-opacity="0.48" stroke="#1a1a9a" stroke-opacity="0.75" stroke-width="0.9"/>
<circle cx="429.9" cy="96.2" r="2.1" fill="#1a1a9a" fill-opacity="0.48" stroke="#1a1a9a" stroke-opacity="0.75" stroke-width="0.9"/>
<circle cx="423.2" cy="103.5" r="2.1" fill="#1a1a9a" fill-opacity="0.48" stroke="#1a1a9a" stroke-opacity="0.75" stroke-width="0.9"/>
<circle cx="429" cy="103.5" r="2.1" fill="#1a1a9a" fill-opacity="0.48" stroke="#1a1a9a" stroke-opacity="0.75" stroke-width="0.9"/>
<circle cx="425" cy="106.7" r="2.1" fill="#1a1a9a" fill-opacity="0.48" stroke="#1a1a9a" stroke-opacity="0.75" stroke-width="0.9"/>
<circle cx="424.6" cy="110" r="2.1" fill="#1a1a9a" fill-opacity="0.48" stroke="#1a1a9a" stroke-opacity="0.75" stroke-width="0.9"/>
<circle cx="427.2" cy="112.8" r="2.1" fill="#1a1a9a" fill-opacity="0.48" stroke="#1a1a9a" stroke-opacity="0.75" stroke-width="0.9"/>
<text x="408.5" y="13.4" font-size="8.0" text-anchor="middle" fill="#1a1a1a" font-weight="normal" font-style="normal"  >CCL24</text>
<text x="389.7" y="25.9" font-size="7.7" fill="#1a1a1a" font-style="italic" stroke="#1a1a1a" stroke-width="0.1">p</text>
<text x="396.4" y="25.9" font-size="7.7" fill="#555">=</text>
<text x="404.9" y="25.9" font-size="7.7" fill="#1a1a1a" stroke="#1a1a1a" stroke-width="0.1">0.0276</text>
<line x1="390" y1="28.4" x2="427.7" y2="28.4" stroke="#1a1a1a" stroke-width="1.4" />
<text x="390.9" y="184.0" font-size="8.2" text-anchor="middle" fill="#4d4d4d" font-weight="normal" font-style="normal"  stroke="#4d4d4d" stroke-width="0.15">Not</text>
<text x="390.9" y="192.0" font-size="8.2" text-anchor="middle" fill="#4d4d4d" font-weight="normal" font-style="normal"  stroke="#4d4d4d" stroke-width="0.15">Cirrhotic</text>
<text x="426.4" y="184.0" font-size="8.2" text-anchor="middle" fill="#4d4d4d" font-weight="normal" font-style="normal"  stroke="#4d4d4d" stroke-width="0.15">Cirrhotic</text>
<line x1="460.5" y1="165.91" x2="540" y2="165.91" stroke="#f4f4f4" stroke-width="0.6" />
<line x1="460.5" y1="125.05000000000001" x2="540" y2="125.05000000000001" stroke="#f4f4f4" stroke-width="0.6" />
<line x1="460.5" y1="84.19" x2="540" y2="84.19" stroke="#f4f4f4" stroke-width="0.6" />
<line x1="460.5" y1="43.33" x2="540" y2="43.33" stroke="#f4f4f4" stroke-width="0.6" />
<line x1="460.5" y1="145.48" x2="540" y2="145.48" stroke="#ebebeb" stroke-width="1" />
<line x1="460.5" y1="104.62" x2="540" y2="104.62" stroke="#ebebeb" stroke-width="1" />
<line x1="460.5" y1="63.76" x2="540" y2="63.76" stroke="#ebebeb" stroke-width="1" />
<line x1="460.5" y1="22.9" x2="540" y2="22.9" stroke="#ebebeb" stroke-width="1" />
<line x1="481.6" y1="22.0" x2="481.6" y2="174.5" stroke="#ebebeb" stroke-width="1" />
<line x1="517.5" y1="22.0" x2="517.5" y2="174.5" stroke="#ebebeb" stroke-width="1" />
<text x="456.2" y="148.88" font-size="8.4" text-anchor="end" fill="#4d4d4d" font-weight="normal" font-style="normal"  stroke="#4d4d4d" stroke-width="0.15">0</text>
<text x="456.2" y="108.02" font-size="8.4" text-anchor="end" fill="#4d4d4d" font-weight="normal" font-style="normal"  stroke="#4d4d4d" stroke-width="0.15">2</text>
<text x="456.2" y="67.16" font-size="8.4" text-anchor="end" fill="#4d4d4d" font-weight="normal" font-style="normal"  stroke="#4d4d4d" stroke-width="0.15">4</text>
<text x="456.2" y="26.3" font-size="8.4" text-anchor="end" fill="#4d4d4d" font-weight="normal" font-style="normal"  stroke="#4d4d4d" stroke-width="0.15">6</text>
<line x1="481.6" y1="90.4" x2="481.6" y2="108.8" stroke="#f7b366" stroke-width="1.1" />
<line x1="481.6" y1="131" x2="481.6" y2="138.4" stroke="#f7b366" stroke-width="1.1" />
<rect x="467.6" y="108.8" width="28.099999999999966" height="22.200000000000003" fill="none" stroke="#f7b366" stroke-width="0.9"/>
<line x1="467.6" y1="121.5" x2="495.7" y2="121.5" stroke="#f08a18" stroke-width="1.6" />
<line x1="517.5" y1="92.7" x2="517.5" y2="111.7" stroke="#f7b366" stroke-width="1.1" />
<line x1="517.5" y1="134.8" x2="517.5" y2="160.6" stroke="#f7b366" stroke-width="1.1" />
<rect x="503.7" y="111.7" width="27.599999999999966" height="23.10000000000001" fill="none" stroke="#f7b366" stroke-width="0.9"/>
<line x1="503.7" y1="124.5" x2="531.3" y2="124.5" stroke="#f08a18" stroke-width="1.6" />
<circle cx="483.6" cy="89.8" r="2.1" fill="#f58a10" fill-opacity="0.48" stroke="#f58a10" stroke-opacity="0.75" stroke-width="0.9"/>
<circle cx="479.4" cy="108.2" r="2.1" fill="#f58a10" fill-opacity="0.48" stroke="#f58a10" stroke-opacity="0.75" stroke-width="0.9"/>
<circle cx="481" cy="108.8" r="2.1" fill="#f58a10" fill-opacity="0.48" stroke="#f58a10" stroke-opacity="0.75" stroke-width="0.9"/>
<circle cx="480" cy="112" r="2.1" fill="#f58a10" fill-opacity="0.48" stroke="#f58a10" stroke-opacity="0.75" stroke-width="0.9"/>
<circle cx="485" cy="119.1" r="2.1" fill="#f58a10" fill-opacity="0.48" stroke="#f58a10" stroke-opacity="0.75" stroke-width="0.9"/>
<circle cx="480.9" cy="123.9" r="2.1" fill="#f58a10" fill-opacity="0.48" stroke="#f58a10" stroke-opacity="0.75" stroke-width="0.9"/>
<circle cx="479.4" cy="129.8" r="2.1" fill="#f58a10" fill-opacity="0.48" stroke="#f58a10" stroke-opacity="0.75" stroke-width="0.9"/>
<circle cx="481" cy="131.5" r="2.1" fill="#f58a10" fill-opacity="0.48" stroke="#f58a10" stroke-opacity="0.75" stroke-width="0.9"/>
<circle cx="483.9" cy="135.7" r="2.1" fill="#f58a10" fill-opacity="0.48" stroke="#f58a10" stroke-opacity="0.75" stroke-width="0.9"/>
<circle cx="483.9" cy="138.4" r="2.1" fill="#f58a10" fill-opacity="0.48" stroke="#f58a10" stroke-opacity="0.75" stroke-width="0.9"/>
<circle cx="516" cy="34.5" r="2.1" fill="#f58a10" fill-opacity="0.48" stroke="#f58a10" stroke-opacity="0.75" stroke-width="0.9"/>
<circle cx="515.7" cy="64.9" r="2.1" fill="#f58a10" fill-opacity="0.48" stroke="#f58a10" stroke-opacity="0.75" stroke-width="0.9"/>
<circle cx="517.7" cy="92.7" r="2.1" fill="#f58a10" fill-opacity="0.48" stroke="#f58a10" stroke-opacity="0.75" stroke-width="0.9"/>
<circle cx="517.7" cy="105.2" r="2.1" fill="#f58a10" fill-opacity="0.48" stroke="#f58a10" stroke-opacity="0.75" stroke-width="0.9"/>
<circle cx="520" cy="111.1" r="2.1" fill="#f58a10" fill-opacity="0.48" stroke="#f58a10" stroke-opacity="0.75" stroke-width="0.9"/>
<circle cx="517" cy="114.5" r="2.1" fill="#f58a10" fill-opacity="0.48" stroke="#f58a10" stroke-opacity="0.75" stroke-width="0.9"/>
<circle cx="518.6" cy="118.5" r="2.1" fill="#f58a10" fill-opacity="0.48" stroke="#f58a10" stroke-opacity="0.75" stroke-width="0.9"/>
<circle cx="517" cy="122.5" r="2.1" fill="#f58a10" fill-opacity="0.48" stroke="#f58a10" stroke-opacity="0.75" stroke-width="0.9"/>
<circle cx="517.7" cy="127.4" r="2.1" fill="#f58a10" fill-opacity="0.48" stroke="#f58a10" stroke-opacity="0.75" stroke-width="0.9"/>
<circle cx="515.6" cy="133.4" r="2.1" fill="#f58a10" fill-opacity="0.48" stroke="#f58a10" stroke-opacity="0.75" stroke-width="0.9"/>
<circle cx="520.6" cy="134.8" r="2.1" fill="#f58a10" fill-opacity="0.48" stroke="#f58a10" stroke-opacity="0.75" stroke-width="0.9"/>
<circle cx="517.7" cy="148.8" r="2.1" fill="#f58a10" fill-opacity="0.48" stroke="#f58a10" stroke-opacity="0.75" stroke-width="0.9"/>
<circle cx="520" cy="149.7" r="2.1" fill="#f58a10" fill-opacity="0.48" stroke="#f58a10" stroke-opacity="0.75" stroke-width="0.9"/>
<circle cx="517.7" cy="155.6" r="2.1" fill="#f58a10" fill-opacity="0.48" stroke="#f58a10" stroke-opacity="0.75" stroke-width="0.9"/>
<circle cx="515.6" cy="160.6" r="2.1" fill="#f58a10" fill-opacity="0.48" stroke="#f58a10" stroke-opacity="0.75" stroke-width="0.9"/>
<text x="499.2" y="13.4" font-size="8.0" text-anchor="middle" fill="#1a1a1a" font-weight="normal" font-style="normal"  >CCL26</text>
<text x="482.1" y="25.9" font-size="7.7" fill="#1a1a1a" font-style="italic" stroke="#1a1a1a" stroke-width="0.1">p</text>
<text x="488.8" y="25.9" font-size="7.7" fill="#555">=</text>
<text x="497.3" y="25.9" font-size="7.7" fill="#1a1a1a" stroke="#1a1a1a" stroke-width="0.1">0.692</text>
<line x1="481.2" y1="28.4" x2="517.7" y2="28.4" stroke="#1a1a1a" stroke-width="1.4" />
<text x="481.6" y="184.0" font-size="8.2" text-anchor="middle" fill="#4d4d4d" font-weight="normal" font-style="normal"  stroke="#4d4d4d" stroke-width="0.15">Not</text>
<text x="481.6" y="192.0" font-size="8.2" text-anchor="middle" fill="#4d4d4d" font-weight="normal" font-style="normal"  stroke="#4d4d4d" stroke-width="0.15">Cirrhotic</text>
<text x="517.5" y="184.0" font-size="8.2" text-anchor="middle" fill="#4d4d4d" font-weight="normal" font-style="normal"  stroke="#4d4d4d" stroke-width="0.15">Cirrhotic</text>
<line x1="18.5" y1="371.35" x2="120" y2="371.35" stroke="#f4f4f4" stroke-width="0.6" />
<line x1="18.5" y1="325.45000000000005" x2="120" y2="325.45000000000005" stroke="#f4f4f4" stroke-width="0.6" />
<line x1="18.5" y1="279.55" x2="120" y2="279.55" stroke="#f4f4f4" stroke-width="0.6" />
<line x1="18.5" y1="233.65000000000003" x2="120" y2="233.65000000000003" stroke="#f4f4f4" stroke-width="0.6" />
<line x1="18.5" y1="348.40000000000003" x2="120" y2="348.40000000000003" stroke="#ebebeb" stroke-width="1" />
<line x1="18.5" y1="302.5" x2="120" y2="302.5" stroke="#ebebeb" stroke-width="1" />
<line x1="18.5" y1="256.6" x2="120" y2="256.6" stroke="#ebebeb" stroke-width="1" />
<line x1="38.7" y1="230" x2="38.7" y2="382.5" stroke="#ebebeb" stroke-width="1" />
<line x1="69.8" y1="230" x2="69.8" y2="382.5" stroke="#ebebeb" stroke-width="1" />
<line x1="101.5" y1="230" x2="101.5" y2="382.5" stroke="#ebebeb" stroke-width="1" />
<text x="16.2" y="351.9" font-size="7.1" text-anchor="end" fill="#555" font-weight="normal" font-style="normal"  stroke="#555" stroke-width="0.15">200</text>
<text x="16.2" y="306.0" font-size="7.1" text-anchor="end" fill="#555" font-weight="normal" font-style="normal"  stroke="#555" stroke-width="0.15">400</text>
<text x="16.2" y="260.1" font-size="7.1" text-anchor="end" fill="#555" font-weight="normal" font-style="normal"  stroke="#555" stroke-width="0.15">600</text>
<line x1="38.7" y1="271.6" x2="38.7" y2="302.1" stroke="#6cb06c" stroke-width="1.1" />
<line x1="38.7" y1="327.5" x2="38.7" y2="357.7" stroke="#6cb06c" stroke-width="1.1" />
<rect x="26.7" y="302.1" width="23.900000000000002" height="25.399999999999977" fill="none" stroke="#6cb06c" stroke-width="0.9"/>
<line x1="26.7" y1="320.6" x2="50.6" y2="320.6" stroke="#0b6b0b" stroke-width="1.6" />
<line x1="69.8" y1="334.7" x2="69.8" y2="336.2" stroke="#6cb06c" stroke-width="1.1" />
<line x1="69.8" y1="342.3" x2="69.8" y2="346.5" stroke="#6cb06c" stroke-width="1.1" />
<rect x="58" y="336.2" width="23.5" height="6.100000000000023" fill="none" stroke="#6cb06c" stroke-width="0.9"/>
<line x1="58" y1="339.1" x2="81.5" y2="339.1" stroke="#0b6b0b" stroke-width="1.6" />
<line x1="101.5" y1="298.9" x2="101.5" y2="328.5" stroke="#6cb06c" stroke-width="1.1" />
<line x1="101.5" y1="358.1" x2="101.5" y2="368.5" stroke="#6cb06c" stroke-width="1.1" />
<rect x="89.4" y="328.5" width="24.19999999999999" height="29.600000000000023" fill="none" stroke="#6cb06c" stroke-width="0.9"/>
<line x1="89.4" y1="337.4" x2="113.6" y2="337.4" stroke="#0b6b0b" stroke-width="1.6" />
<circle cx="37" cy="271.6" r="2.1" fill="#228b22" fill-opacity="0.48" stroke="#228b22" stroke-opacity="0.75" stroke-width="0.9"/>
<circle cx="36.3" cy="287.7" r="2.1" fill="#228b22" fill-opacity="0.48" stroke="#228b22" stroke-opacity="0.75" stroke-width="0.9"/>
<circle cx="40.2" cy="300.4" r="2.1" fill="#228b22" fill-opacity="0.48" stroke="#228b22" stroke-opacity="0.75" stroke-width="0.9"/>
<circle cx="42" cy="315.2" r="2.1" fill="#228b22" fill-opacity="0.48" stroke="#228b22" stroke-opacity="0.75" stroke-width="0.9"/>
<circle cx="37" cy="321.9" r="2.1" fill="#228b22" fill-opacity="0.48" stroke="#228b22" stroke-opacity="0.75" stroke-width="0.9"/>
<circle cx="38.8" cy="325.6" r="2.1" fill="#228b22" fill-opacity="0.48" stroke="#228b22" stroke-opacity="0.75" stroke-width="0.9"/>
<circle cx="39.5" cy="332.2" r="2.1" fill="#228b22" fill-opacity="0.48" stroke="#228b22" stroke-opacity="0.75" stroke-width="0.9"/>
<circle cx="41.2" cy="344.8" r="2.1" fill="#228b22" fill-opacity="0.48" stroke="#228b22" stroke-opacity="0.75" stroke-width="0.9"/>
<circle cx="37" cy="357.7" r="2.1" fill="#228b22" fill-opacity="0.48" stroke="#228b22" stroke-opacity="0.75" stroke-width="0.9"/>
<circle cx="72.3" cy="334.7" r="2.1" fill="#228b22" fill-opacity="0.48" stroke="#228b22" stroke-opacity="0.75" stroke-width="0.9"/>
<circle cx="66.7" cy="337.2" r="2.1" fill="#228b22" fill-opacity="0.48" stroke="#228b22" stroke-opacity="0.75" stroke-width="0.9"/>
<circle cx="71.6" cy="343.6" r="2.1" fill="#228b22" fill-opacity="0.48" stroke="#228b22" stroke-opacity="0.75" stroke-width="0.9"/>
<circle cx="72.3" cy="346.5" r="2.1" fill="#228b22" fill-opacity="0.48" stroke="#228b22" stroke-opacity="0.75" stroke-width="0.9"/>
<circle cx="102.5" cy="298.9" r="2.1" fill="#228b22" fill-opacity="0.48" stroke="#228b22" stroke-opacity="0.75" stroke-width="0.9"/>
<circle cx="100.7" cy="312" r="2.1" fill="#228b22" fill-opacity="0.48" stroke="#228b22" stroke-opacity="0.75" stroke-width="0.9"/>
<circle cx="100" cy="323.8" r="2.1" fill="#228b22" fill-opacity="0.48" stroke="#228b22" stroke-opacity="0.75" stroke-width="0.9"/>
<circle cx="101.2" cy="333.7" r="2.1" fill="#228b22" fill-opacity="0.48" stroke="#228b22" stroke-opacity="0.75" stroke-width="0.9"/>
<circle cx="99.3" cy="351" r="2.1" fill="#228b22" fill-opacity="0.48" stroke="#228b22" stroke-opacity="0.75" stroke-width="0.9"/>
<circle cx="100" cy="356.9" r="2.1" fill="#228b22" fill-opacity="0.48" stroke="#228b22" stroke-opacity="0.75" stroke-width="0.9"/>
<circle cx="100.7" cy="361.4" r="2.1" fill="#228b22" fill-opacity="0.48" stroke="#228b22" stroke-opacity="0.75" stroke-width="0.9"/>
<circle cx="102" cy="363.3" r="2.1" fill="#228b22" fill-opacity="0.48" stroke="#228b22" stroke-opacity="0.75" stroke-width="0.9"/>
<circle cx="104.2" cy="368.5" r="2.1" fill="#228b22" fill-opacity="0.48" stroke="#228b22" stroke-opacity="0.75" stroke-width="0.9"/>
<line x1="38.5" y1="302" x2="38.5" y2="332.5" stroke="#ff2a2a" stroke-width="0.95" stroke-opacity="0.72"/>
<line x1="35.5" y1="302" x2="41.5" y2="302" stroke="#ff2a2a" stroke-width="0.95" stroke-opacity="0.72"/>
<line x1="35.5" y1="332.5" x2="41.5" y2="332.5" stroke="#ff2a2a" stroke-width="0.95" stroke-opacity="0.72"/>
<path d="M38.5 313.4 L42.0 316.9 L38.5 320.4 L35.0 316.9 Z" fill="#ff0000"/>
<line x1="69.9" y1="335.4" x2="69.9" y2="343.3" stroke="#ff2a2a" stroke-width="0.95" stroke-opacity="0.72"/>
<line x1="66.9" y1="335.4" x2="72.9" y2="335.4" stroke="#ff2a2a" stroke-width="0.95" stroke-opacity="0.72"/>
<line x1="66.9" y1="343.3" x2="72.9" y2="343.3" stroke="#ff2a2a" stroke-width="0.95" stroke-opacity="0.72"/>
<path d="M69.9 335.6 L73.4 339.1 L69.9 342.6 L66.4 339.1 Z" fill="#ff0000"/>
<line x1="101.2" y1="324.8" x2="101.2" y2="355.2" stroke="#ff2a2a" stroke-width="0.95" stroke-opacity="0.72"/>
<line x1="98.2" y1="324.8" x2="104.2" y2="324.8" stroke="#ff2a2a" stroke-width="0.95" stroke-opacity="0.72"/>
<line x1="98.2" y1="355.2" x2="104.2" y2="355.2" stroke="#ff2a2a" stroke-width="0.95" stroke-opacity="0.72"/>
<path d="M101.2 336.9 L104.7 340.4 L101.2 343.9 L97.7 340.4 Z" fill="#ff0000"/>
<text x="70" y="228.8" font-size="8.9" text-anchor="middle" fill="#1a1a1a" font-weight="normal" font-style="normal"  >PLT</text>
<path d="M70.4 247.3 V242.4 H101.2 V247.3" fill="none" stroke="#555555" stroke-width="1"/>
<text x="85.8" y="241.5" font-size="7.9" text-anchor="middle" fill="#1a1a1a" font-weight="normal" font-style="normal"  stroke="#1a1a1a" stroke-width="0.15">1</text>
<path d="M38.3 259.2 V254.3 H101.2 V259.2" fill="none" stroke="#555555" stroke-width="1"/>
<text x="69.4" y="253.4" font-size="7.9" text-anchor="middle" fill="#1a1a1a" font-weight="normal" font-style="normal"  stroke="#1a1a1a" stroke-width="0.15">0.032</text>
<path d="M38.3 270.8 V266.6 H70.4 V270.8" fill="none" stroke="#555555" stroke-width="1"/>
<text x="53.8" y="265.70000000000005" font-size="7.9" text-anchor="middle" fill="#1a1a1a" font-weight="normal" font-style="normal"  stroke="#1a1a1a" stroke-width="0.15">0.013</text>
<text x="38.7" y="390.7" font-size="7.1" text-anchor="middle" fill="#4d4d4d" font-weight="normal" font-style="normal"  stroke="#4d4d4d" stroke-width="0.15">Not</text>
<text x="38.7" y="398.4" font-size="7.1" text-anchor="middle" fill="#4d4d4d" font-weight="normal" font-style="normal"  stroke="#4d4d4d" stroke-width="0.15">Cirrhotic</text>
<text x="69.8" y="390.7" font-size="7.1" text-anchor="middle" fill="#4d4d4d" font-weight="normal" font-style="normal"  stroke="#4d4d4d" stroke-width="0.15">Pre</text>
<text x="69.8" y="398.4" font-size="7.1" text-anchor="middle" fill="#4d4d4d" font-weight="normal" font-style="normal"  stroke="#4d4d4d" stroke-width="0.15">Cirrhotic</text>
<text x="101.5" y="390.7" font-size="7.1" text-anchor="middle" fill="#4d4d4d" font-weight="normal" font-style="normal"  stroke="#4d4d4d" stroke-width="0.15">Post</text>
<text x="101.5" y="398.4" font-size="7.1" text-anchor="middle" fill="#4d4d4d" font-weight="normal" font-style="normal"  stroke="#4d4d4d" stroke-width="0.15">Cirrhotic</text>
<line x1="136" y1="366.225" x2="238" y2="366.225" stroke="#f4f4f4" stroke-width="0.6" />
<line x1="136" y1="327.57500000000005" x2="238" y2="327.57500000000005" stroke="#f4f4f4" stroke-width="0.6" />
<line x1="136" y1="288.925" x2="238" y2="288.925" stroke="#f4f4f4" stroke-width="0.6" />
<line x1="136" y1="250.27500000000003" x2="238" y2="250.27500000000003" stroke="#f4f4f4" stroke-width="0.6" />
<line x1="136" y1="346.90000000000003" x2="238" y2="346.90000000000003" stroke="#ebebeb" stroke-width="1" />
<line x1="136" y1="308.25" x2="238" y2="308.25" stroke="#ebebeb" stroke-width="1" />
<line x1="136" y1="269.6" x2="238" y2="269.6" stroke="#ebebeb" stroke-width="1" />
<line x1="156.4" y1="230" x2="156.4" y2="382.5" stroke="#ebebeb" stroke-width="1" />
<line x1="187.7" y1="230" x2="187.7" y2="382.5" stroke="#ebebeb" stroke-width="1" />
<line x1="219.2" y1="230" x2="219.2" y2="382.5" stroke="#ebebeb" stroke-width="1" />
<text x="134.3" y="350.4" font-size="7.1" text-anchor="end" fill="#555" font-weight="normal" font-style="normal"  stroke="#555" stroke-width="0.15">0.5</text>
<text x="134.3" y="311.75" font-size="7.1" text-anchor="end" fill="#555" font-weight="normal" font-style="normal"  stroke="#555" stroke-width="0.15">1.0</text>
<text x="134.3" y="273.1" font-size="7.1" text-anchor="end" fill="#555" font-weight="normal" font-style="normal"  stroke="#555" stroke-width="0.15">1.5</text>
<line x1="156.4" y1="293.9" x2="156.4" y2="323.9" stroke="#c8c8c8" stroke-width="1.1" />
<line x1="156.4" y1="347.3" x2="156.4" y2="368.6" stroke="#c8c8c8" stroke-width="1.1" />
<rect x="144" y="323.9" width="24.69999999999999" height="23.400000000000034" fill="none" stroke="#c8c8c8" stroke-width="0.9"/>
<line x1="144" y1="335.6" x2="168.7" y2="335.6" stroke="#9c9c9c" stroke-width="1.6" />
<line x1="187.7" y1="301" x2="187.7" y2="321.7" stroke="#c8c8c8" stroke-width="1.1" />
<line x1="187.7" y1="338.1" x2="187.7" y2="349.5" stroke="#c8c8c8" stroke-width="1.1" />
<rect x="175.8" y="321.7" width="23.799999999999983" height="16.400000000000034" fill="none" stroke="#c8c8c8" stroke-width="0.9"/>
<line x1="175.8" y1="327.9" x2="199.6" y2="327.9" stroke="#9c9c9c" stroke-width="1.6" />
<line x1="219.2" y1="271.2" x2="219.2" y2="300.7" stroke="#c8c8c8" stroke-width="1.1" />
<line x1="219.2" y1="336.5" x2="219.2" y2="345.8" stroke="#c8c8c8" stroke-width="1.1" />
<rect x="207.3" y="300.7" width="23.799999999999983" height="35.80000000000001" fill="none" stroke="#c8c8c8" stroke-width="0.9"/>
<line x1="207.3" y1="316.1" x2="231.1" y2="316.1" stroke="#9c9c9c" stroke-width="1.6" />
<circle cx="154.2" cy="293.9" r="2.1" fill="#b0b0b0" fill-opacity="0.36" stroke="#b0b0b0" stroke-opacity="0.562" stroke-width="0.9"/>
<circle cx="155.7" cy="296.1" r="2.1" fill="#b0b0b0" fill-opacity="0.36" stroke="#b0b0b0" stroke-opacity="0.562" stroke-width="0.9"/>
<circle cx="158.8" cy="332.5" r="2.1" fill="#b0b0b0" fill-opacity="0.36" stroke="#b0b0b0" stroke-opacity="0.562" stroke-width="0.9"/>
<circle cx="153.2" cy="340.2" r="2.1" fill="#b0b0b0" fill-opacity="0.36" stroke="#b0b0b0" stroke-opacity="0.562" stroke-width="0.9"/>
<circle cx="157.9" cy="344.9" r="2.1" fill="#b0b0b0" fill-opacity="0.36" stroke="#b0b0b0" stroke-opacity="0.562" stroke-width="0.9"/>
<circle cx="159.4" cy="353.2" r="2.1" fill="#b0b0b0" fill-opacity="0.36" stroke="#b0b0b0" stroke-opacity="0.562" stroke-width="0.9"/>
<circle cx="154.8" cy="360.9" r="2.1" fill="#b0b0b0" fill-opacity="0.36" stroke="#b0b0b0" stroke-opacity="0.562" stroke-width="0.9"/>
<circle cx="154.2" cy="368.6" r="2.1" fill="#b0b0b0" fill-opacity="0.36" stroke="#b0b0b0" stroke-opacity="0.562" stroke-width="0.9"/>
<circle cx="185.7" cy="301" r="2.1" fill="#b0b0b0" fill-opacity="0.36" stroke="#b0b0b0" stroke-opacity="0.562" stroke-width="0.9"/>
<circle cx="187.2" cy="317.1" r="2.1" fill="#b0b0b0" fill-opacity="0.36" stroke="#b0b0b0" stroke-opacity="0.562" stroke-width="0.9"/>
<circle cx="185.7" cy="326.3" r="2.1" fill="#b0b0b0" fill-opacity="0.36" stroke="#b0b0b0" stroke-opacity="0.562" stroke-width="0.9"/>
<circle cx="185.7" cy="333.1" r="2.1" fill="#b0b0b0" fill-opacity="0.36" stroke="#b0b0b0" stroke-opacity="0.562" stroke-width="0.9"/>
<circle cx="187.8" cy="349.5" r="2.1" fill="#b0b0b0" fill-opacity="0.36" stroke="#b0b0b0" stroke-opacity="0.562" stroke-width="0.9"/>
<circle cx="219.5" cy="271.2" r="2.1" fill="#b0b0b0" fill-opacity="0.36" stroke="#b0b0b0" stroke-opacity="0.562" stroke-width="0.9"/>
<circle cx="217.5" cy="282.4" r="2.1" fill="#b0b0b0" fill-opacity="0.36" stroke="#b0b0b0" stroke-opacity="0.562" stroke-width="0.9"/>
<circle cx="219.5" cy="295.2" r="2.1" fill="#b0b0b0" fill-opacity="0.36" stroke="#b0b0b0" stroke-opacity="0.562" stroke-width="0.9"/>
<circle cx="219" cy="323.2" r="2.1" fill="#b0b0b0" fill-opacity="0.36" stroke="#b0b0b0" stroke-opacity="0.562" stroke-width="0.9"/>
<circle cx="218.1" cy="334" r="2.1" fill="#b0b0b0" fill-opacity="0.36" stroke="#b0b0b0" stroke-opacity="0.562" stroke-width="0.9"/>
<circle cx="219.6" cy="338.1" r="2.1" fill="#b0b0b0" fill-opacity="0.36" stroke="#b0b0b0" stroke-opacity="0.562" stroke-width="0.9"/>
<circle cx="218.1" cy="345.8" r="2.1" fill="#b0b0b0" fill-opacity="0.36" stroke="#b0b0b0" stroke-opacity="0.562" stroke-width="0.9"/>
<line x1="156.3" y1="319.5" x2="156.3" y2="348.6" stroke="#ff2a2a" stroke-width="0.95" stroke-opacity="0.72"/>
<line x1="153.3" y1="319.5" x2="159.3" y2="319.5" stroke="#ff2a2a" stroke-width="0.95" stroke-opacity="0.72"/>
<line x1="153.3" y1="348.6" x2="159.3" y2="348.6" stroke="#ff2a2a" stroke-width="0.95" stroke-opacity="0.72"/>
<path d="M156.3 330.5 L159.8 334 L156.3 337.5 L152.8 334 Z" fill="#ff0000"/>
<line x1="187.2" y1="313.4" x2="187.2" y2="343.3" stroke="#ff2a2a" stroke-width="0.95" stroke-opacity="0.72"/>
<line x1="184.2" y1="313.4" x2="190.2" y2="313.4" stroke="#ff2a2a" stroke-width="0.95" stroke-opacity="0.72"/>
<line x1="184.2" y1="343.3" x2="190.2" y2="343.3" stroke="#ff2a2a" stroke-width="0.95" stroke-opacity="0.72"/>
<path d="M187.2 324.4 L190.7 327.9 L187.2 331.4 L183.7 327.9 Z" fill="#ff0000"/>
<line x1="218.7" y1="298.5" x2="218.7" y2="331.6" stroke="#ff2a2a" stroke-width="0.95" stroke-opacity="0.72"/>
<line x1="215.7" y1="298.5" x2="221.7" y2="298.5" stroke="#ff2a2a" stroke-width="0.95" stroke-opacity="0.72"/>
<line x1="215.7" y1="331.6" x2="221.7" y2="331.6" stroke="#ff2a2a" stroke-width="0.95" stroke-opacity="0.72"/>
<path d="M218.7 311.4 L222.2 314.9 L218.7 318.4 L215.2 314.9 Z" fill="#ff0000"/>
<text x="187.4" y="228.9" font-size="8.9" text-anchor="middle" fill="#1a1a1a" font-weight="normal" font-style="normal"  >AST/ALT</text>
<path d="M188.1 247 V242.8 H218.7 V247" fill="none" stroke="#555555" stroke-width="1"/>
<text x="203" y="241.9" font-size="7.9" text-anchor="middle" fill="#1a1a1a" font-weight="normal" font-style="normal"  stroke="#1a1a1a" stroke-width="0.15">0.285</text>
<path d="M156.5 259.4 V255.2 H218.7 V259.4" fill="none" stroke="#555555" stroke-width="1"/>
<text x="187.4" y="254.29999999999998" font-size="7.9" text-anchor="middle" fill="#1a1a1a" font-weight="normal" font-style="normal"  stroke="#1a1a1a" stroke-width="0.15">0.069</text>
<path d="M156.5 271.2 V266.8 H188.1 V271.2" fill="none" stroke="#555555" stroke-width="1"/>
<text x="171.5" y="265.90000000000003" font-size="7.9" text-anchor="middle" fill="#1a1a1a" font-weight="normal" font-style="normal"  stroke="#1a1a1a" stroke-width="0.15">0.592</text>
<text x="156.4" y="390.7" font-size="7.1" text-anchor="middle" fill="#4d4d4d" font-weight="normal" font-style="normal"  stroke="#4d4d4d" stroke-width="0.15">Not</text>
<text x="156.4" y="398.4" font-size="7.1" text-anchor="middle" fill="#4d4d4d" font-weight="normal" font-style="normal"  stroke="#4d4d4d" stroke-width="0.15">Cirrhotic</text>
<text x="187.7" y="390.7" font-size="7.1" text-anchor="middle" fill="#4d4d4d" font-weight="normal" font-style="normal"  stroke="#4d4d4d" stroke-width="0.15">Pre</text>
<text x="187.7" y="398.4" font-size="7.1" text-anchor="middle" fill="#4d4d4d" font-weight="normal" font-style="normal"  stroke="#4d4d4d" stroke-width="0.15">Cirrhotic</text>
<text x="219.2" y="390.7" font-size="7.1" text-anchor="middle" fill="#4d4d4d" font-weight="normal" font-style="normal"  stroke="#4d4d4d" stroke-width="0.15">Post</text>
<text x="219.2" y="398.4" font-size="7.1" text-anchor="middle" fill="#4d4d4d" font-weight="normal" font-style="normal"  stroke="#4d4d4d" stroke-width="0.15">Cirrhotic</text>
<line x1="250" y1="360.0" x2="352" y2="360.0" stroke="#f4f4f4" stroke-width="0.6" />
<line x1="250" y1="332.8" x2="352" y2="332.8" stroke="#f4f4f4" stroke-width="0.6" />
<line x1="250" y1="305.6" x2="352" y2="305.6" stroke="#f4f4f4" stroke-width="0.6" />
<line x1="250" y1="278.4" x2="352" y2="278.4" stroke="#f4f4f4" stroke-width="0.6" />
<line x1="250" y1="251.2" x2="352" y2="251.2" stroke="#f4f4f4" stroke-width="0.6" />
<line x1="250" y1="373.6" x2="352" y2="373.6" stroke="#ebebeb" stroke-width="1" />
<line x1="250" y1="346.4" x2="352" y2="346.4" stroke="#ebebeb" stroke-width="1" />
<line x1="250" y1="319.2" x2="352" y2="319.2" stroke="#ebebeb" stroke-width="1" />
<line x1="250" y1="292.0" x2="352" y2="292.0" stroke="#ebebeb" stroke-width="1" />
<line x1="250" y1="264.8" x2="352" y2="264.8" stroke="#ebebeb" stroke-width="1" />
<line x1="250" y1="237.6" x2="352" y2="237.6" stroke="#ebebeb" stroke-width="1" />
<line x1="270.5" y1="230" x2="270.5" y2="382.5" stroke="#ebebeb" stroke-width="1" />
<line x1="302.3" y1="230" x2="302.3" y2="382.5" stroke="#ebebeb" stroke-width="1" />
<line x1="333.8" y1="230" x2="333.8" y2="382.5" stroke="#ebebeb" stroke-width="1" />
<text x="247.9" y="377.1" font-size="7.1" text-anchor="end" fill="#555" font-weight="normal" font-style="normal"  stroke="#555" stroke-width="0.15">-1</text>
<text x="247.9" y="349.9" font-size="7.1" text-anchor="end" fill="#555" font-weight="normal" font-style="normal"  stroke="#555" stroke-width="0.15">0</text>
<text x="247.9" y="322.7" font-size="7.1" text-anchor="end" fill="#555" font-weight="normal" font-style="normal"  stroke="#555" stroke-width="0.15">1</text>
<text x="247.9" y="295.5" font-size="7.1" text-anchor="end" fill="#555" font-weight="normal" font-style="normal"  stroke="#555" stroke-width="0.15">2</text>
<text x="247.9" y="268.3" font-size="7.1" text-anchor="end" fill="#555" font-weight="normal" font-style="normal"  stroke="#555" stroke-width="0.15">3</text>
<text x="247.9" y="241.1" font-size="7.1" text-anchor="end" fill="#555" font-weight="normal" font-style="normal"  stroke="#555" stroke-width="0.15">4</text>
<line x1="270.5" y1="286.8" x2="270.5" y2="311.8" stroke="#5a5ac0" stroke-width="1.1" />
<line x1="270.5" y1="344.9" x2="270.5" y2="368.6" stroke="#5a5ac0" stroke-width="1.1" />
<rect x="258.4" y="311.8" width="24.100000000000023" height="33.099999999999966" fill="none" stroke="#5a5ac0" stroke-width="0.9"/>
<line x1="258.4" y1="331.6" x2="282.5" y2="331.6" stroke="#16169a" stroke-width="1.6" />
<line x1="302.3" y1="271.2" x2="302.3" y2="299.5" stroke="#5a5ac0" stroke-width="1.1" />
<line x1="302.3" y1="328.5" x2="302.3" y2="331" stroke="#5a5ac0" stroke-width="1.1" />
<rect x="290.2" y="299.5" width="24.100000000000023" height="29.0" fill="none" stroke="#5a5ac0" stroke-width="0.9"/>
<line x1="290.2" y1="324.8" x2="314.3" y2="324.8" stroke="#16169a" stroke-width="1.6" />
<line x1="333.8" y1="287.7" x2="333.8" y2="296.4" stroke="#5a5ac0" stroke-width="1.1" />
<line x1="333.8" y1="315.5" x2="333.8" y2="330" stroke="#5a5ac0" stroke-width="1.1" />
<rect x="321.7" y="296.4" width="24.100000000000023" height="19.100000000000023" fill="none" stroke="#5a5ac0" stroke-width="0.9"/>
<line x1="321.7" y1="308.7" x2="345.8" y2="308.7" stroke="#16169a" stroke-width="1.6" />
<circle cx="269.2" cy="286.8" r="2.1" fill="#1a1a9a" fill-opacity="0.48" stroke="#1a1a9a" stroke-opacity="0.75" stroke-width="0.9"/>
<circle cx="267.1" cy="309.3" r="2.1" fill="#1a1a9a" fill-opacity="0.48" stroke="#1a1a9a" stroke-opacity="0.75" stroke-width="0.9"/>
<circle cx="270.1" cy="307.2" r="2.1" fill="#1a1a9a" fill-opacity="0.48" stroke="#1a1a9a" stroke-opacity="0.75" stroke-width="0.9"/>
<circle cx="269.2" cy="314" r="2.1" fill="#1a1a9a" fill-opacity="0.48" stroke="#1a1a9a" stroke-opacity="0.75" stroke-width="0.9"/>
<circle cx="270.1" cy="318.6" r="2.1" fill="#1a1a9a" fill-opacity="0.48" stroke="#1a1a9a" stroke-opacity="0.75" stroke-width="0.9"/>
<circle cx="269.2" cy="321.7" r="2.1" fill="#1a1a9a" fill-opacity="0.48" stroke="#1a1a9a" stroke-opacity="0.75" stroke-width="0.9"/>
<circle cx="271.1" cy="340.2" r="2.1" fill="#1a1a9a" fill-opacity="0.48" stroke="#1a1a9a" stroke-opacity="0.75" stroke-width="0.9"/>
<circle cx="272.3" cy="343.3" r="2.1" fill="#1a1a9a" fill-opacity="0.48" stroke="#1a1a9a" stroke-opacity="0.75" stroke-width="0.9"/>
<circle cx="267.7" cy="347.9" r="2.1" fill="#1a1a9a" fill-opacity="0.48" stroke="#1a1a9a" stroke-opacity="0.75" stroke-width="0.9"/>
<circle cx="269.5" cy="348.5" r="2.1" fill="#1a1a9a" fill-opacity="0.48" stroke="#1a1a9a" stroke-opacity="0.75" stroke-width="0.9"/>
<circle cx="269.2" cy="368.6" r="2.1" fill="#1a1a9a" fill-opacity="0.48" stroke="#1a1a9a" stroke-opacity="0.75" stroke-width="0.9"/>
<circle cx="302.2" cy="271.2" r="2.1" fill="#1a1a9a" fill-opacity="0.48" stroke="#1a1a9a" stroke-opacity="0.75" stroke-width="0.9"/>
<circle cx="303.2" cy="297" r="2.1" fill="#1a1a9a" fill-opacity="0.48" stroke="#1a1a9a" stroke-opacity="0.75" stroke-width="0.9"/>
<circle cx="300.4" cy="302.2" r="2.1" fill="#1a1a9a" fill-opacity="0.48" stroke="#1a1a9a" stroke-opacity="0.75" stroke-width="0.9"/>
<circle cx="305" cy="323.9" r="2.1" fill="#1a1a9a" fill-opacity="0.48" stroke="#1a1a9a" stroke-opacity="0.75" stroke-width="0.9"/>
<circle cx="299.5" cy="328.8" r="2.1" fill="#1a1a9a" fill-opacity="0.48" stroke="#1a1a9a" stroke-opacity="0.75" stroke-width="0.9"/>
<circle cx="301" cy="331" r="2.1" fill="#1a1a9a" fill-opacity="0.48" stroke="#1a1a9a" stroke-opacity="0.75" stroke-width="0.9"/>
<circle cx="332.5" cy="287.7" r="2.1" fill="#1a1a9a" fill-opacity="0.48" stroke="#1a1a9a" stroke-opacity="0.75" stroke-width="0.9"/>
<circle cx="335" cy="291.7" r="2.1" fill="#1a1a9a" fill-opacity="0.48" stroke="#1a1a9a" stroke-opacity="0.75" stroke-width="0.9"/>
<circle cx="331.9" cy="294.5" r="2.1" fill="#1a1a9a" fill-opacity="0.48" stroke="#1a1a9a" stroke-opacity="0.75" stroke-width="0.9"/>
<circle cx="331" cy="303.2" r="2.1" fill="#1a1a9a" fill-opacity="0.48" stroke="#1a1a9a" stroke-opacity="0.75" stroke-width="0.9"/>
<circle cx="336.5" cy="307.2" r="2.1" fill="#1a1a9a" fill-opacity="0.48" stroke="#1a1a9a" stroke-opacity="0.75" stroke-width="0.9"/>
<circle cx="332.8" cy="310.9" r="2.1" fill="#1a1a9a" fill-opacity="0.48" stroke="#1a1a9a" stroke-opacity="0.75" stroke-width="0.9"/>
<circle cx="335" cy="312.4" r="2.1" fill="#1a1a9a" fill-opacity="0.48" stroke="#1a1a9a" stroke-opacity="0.75" stroke-width="0.9"/>
<circle cx="332.8" cy="319.2" r="2.1" fill="#1a1a9a" fill-opacity="0.48" stroke="#1a1a9a" stroke-opacity="0.75" stroke-width="0.9"/>
<circle cx="335.9" cy="325.4" r="2.1" fill="#1a1a9a" fill-opacity="0.48" stroke="#1a1a9a" stroke-opacity="0.75" stroke-width="0.9"/>
<circle cx="331" cy="330" r="2.1" fill="#1a1a9a" fill-opacity="0.48" stroke="#1a1a9a" stroke-opacity="0.75" stroke-width="0.9"/>
<line x1="270.1" y1="314" x2="270.1" y2="343.3" stroke="#ff2a2a" stroke-width="0.95" stroke-opacity="0.72"/>
<line x1="267.1" y1="314" x2="273.1" y2="314" stroke="#ff2a2a" stroke-width="0.95" stroke-opacity="0.72"/>
<line x1="267.1" y1="343.3" x2="273.1" y2="343.3" stroke="#ff2a2a" stroke-width="0.95" stroke-opacity="0.72"/>
<path d="M270.1 325.3 L273.6 328.8 L270.1 332.3 L266.6 328.8 Z" fill="#ff0000"/>
<line x1="302" y1="290.8" x2="302" y2="332.5" stroke="#ff2a2a" stroke-width="0.95" stroke-opacity="0.72"/>
<line x1="299.0" y1="290.8" x2="305.0" y2="290.8" stroke="#ff2a2a" stroke-width="0.95" stroke-opacity="0.72"/>
<line x1="299.0" y1="332.5" x2="305.0" y2="332.5" stroke="#ff2a2a" stroke-width="0.95" stroke-opacity="0.72"/>
<path d="M302 308.3 L305.5 311.8 L302 315.3 L298.5 311.8 Z" fill="#ff0000"/>
<line x1="333.5" y1="298.5" x2="333.5" y2="317.1" stroke="#ff2a2a" stroke-width="0.95" stroke-opacity="0.72"/>
<line x1="330.5" y1="298.5" x2="336.5" y2="298.5" stroke="#ff2a2a" stroke-width="0.95" stroke-opacity="0.72"/>
<line x1="330.5" y1="317.1" x2="336.5" y2="317.1" stroke="#ff2a2a" stroke-width="0.95" stroke-opacity="0.72"/>
<path d="M333.5 303.7 L337.0 307.2 L333.5 310.7 L330.0 307.2 Z" fill="#ff0000"/>
<text x="301.5" y="228.9" font-size="8.9" text-anchor="middle" fill="#1a1a1a" font-weight="normal" font-style="normal"  >CCL24</text>
<path d="M301.7 247.5 V243.3 H333.3 V247.5" fill="none" stroke="#555555" stroke-width="1"/>
<text x="317.5" y="242.4" font-size="7.9" text-anchor="middle" fill="#1a1a1a" font-weight="normal" font-style="normal"  stroke="#1a1a1a" stroke-width="0.15">0.479</text>
<path d="M270.3 259.9 V255.2 H333.3 V259.9" fill="none" stroke="#555555" stroke-width="1"/>
<text x="301" y="254.29999999999998" font-size="7.9" text-anchor="middle" fill="#1a1a1a" font-weight="normal" font-style="normal"  stroke="#1a1a1a" stroke-width="0.15">0.027</text>
<path d="M270.3 271.2 V266.8 H301.7 V271.2" fill="none" stroke="#555555" stroke-width="1"/>
<text x="285.8" y="265.90000000000003" font-size="7.9" text-anchor="middle" fill="#1a1a1a" font-weight="normal" font-style="normal"  stroke="#1a1a1a" stroke-width="0.15">0.196</text>
<text x="270.5" y="390.7" font-size="7.1" text-anchor="middle" fill="#4d4d4d" font-weight="normal" font-style="normal"  stroke="#4d4d4d" stroke-width="0.15">Not</text>
<text x="270.5" y="398.4" font-size="7.1" text-anchor="middle" fill="#4d4d4d" font-weight="normal" font-style="normal"  stroke="#4d4d4d" stroke-width="0.15">Cirrhotic</text>
<text x="302.3" y="390.7" font-size="7.1" text-anchor="middle" fill="#4d4d4d" font-weight="normal" font-style="normal"  stroke="#4d4d4d" stroke-width="0.15">Pre</text>
<text x="302.3" y="398.4" font-size="7.1" text-anchor="middle" fill="#4d4d4d" font-weight="normal" font-style="normal"  stroke="#4d4d4d" stroke-width="0.15">Cirrhotic</text>
<text x="333.8" y="390.7" font-size="7.1" text-anchor="middle" fill="#4d4d4d" font-weight="normal" font-style="normal"  stroke="#4d4d4d" stroke-width="0.15">Post</text>
<text x="333.8" y="398.4" font-size="7.1" text-anchor="middle" fill="#4d4d4d" font-weight="normal" font-style="normal"  stroke="#4d4d4d" stroke-width="0.15">Cirrhotic</text>
<line x1="411.41" y1="224.2" x2="411.41" y2="380.8" stroke="#f4f4f4" stroke-width="0.6" />
<line x1="447.23" y1="224.2" x2="447.23" y2="380.8" stroke="#f4f4f4" stroke-width="0.6" />
<line x1="483.05" y1="224.2" x2="483.05" y2="380.8" stroke="#f4f4f4" stroke-width="0.6" />
<line x1="518.87" y1="224.2" x2="518.87" y2="380.8" stroke="#f4f4f4" stroke-width="0.6" />
<line x1="386.6" y1="356.11249999999995" x2="543.4" y2="356.11249999999995" stroke="#f4f4f4" stroke-width="0.6" />
<line x1="386.6" y1="320.53749999999997" x2="543.4" y2="320.53749999999997" stroke="#f4f4f4" stroke-width="0.6" />
<line x1="386.6" y1="284.9625" x2="543.4" y2="284.9625" stroke="#f4f4f4" stroke-width="0.6" />
<line x1="386.6" y1="249.38749999999996" x2="543.4" y2="249.38749999999996" stroke="#f4f4f4" stroke-width="0.6" />
<line x1="393.5" y1="224.2" x2="393.5" y2="380.8" stroke="#ebebeb" stroke-width="0.8" />
<line x1="429.32" y1="224.2" x2="429.32" y2="380.8" stroke="#ebebeb" stroke-width="0.8" />
<line x1="465.14" y1="224.2" x2="465.14" y2="380.8" stroke="#ebebeb" stroke-width="0.8" />
<line x1="500.96000000000004" y1="224.2" x2="500.96000000000004" y2="380.8" stroke="#ebebeb" stroke-width="0.8" />
<line x1="536.78" y1="224.2" x2="536.78" y2="380.8" stroke="#ebebeb" stroke-width="0.8" />
<line x1="386.6" y1="373.9" x2="543.4" y2="373.9" stroke="#ebebeb" stroke-width="0.8" />
<line x1="386.6" y1="338.325" x2="543.4" y2="338.325" stroke="#ebebeb" stroke-width="0.8" />
<line x1="386.6" y1="302.75" x2="543.4" y2="302.75" stroke="#ebebeb" stroke-width="0.8" />
<line x1="386.6" y1="267.17499999999995" x2="543.4" y2="267.17499999999995" stroke="#ebebeb" stroke-width="0.8" />
<line x1="386.6" y1="231.59999999999997" x2="543.4" y2="231.59999999999997" stroke="#ebebeb" stroke-width="0.8" />
<path d="M393.3 231.6 H466.1 V244.8 H477.6 V259.3 H506.3 V277.3 H533.5 V288.5 H541.8 V288.5 V357.1 H541.8 V357.1 H533.6 V350.7 H506.6 V335 H475.3 V317.1 H468.7 V308.3 H466.4 V301.5 H464.9 V285.4 H461.2 V272.9 H410.5 V257.8 H393.3 Z" fill="#f8eab2"/>
<g>
<path d="M460.8 231.6 H486.2 V237.8 H496.0 V244.9 H541.3 V244.9 V317.2 H541.3 V317.2 H496.8 V307.4 H485.9 V285.4 H477.8 V273 H467.2 V258 H460.8 Z" fill="#c0e2f5"/>
</g>
<clipPath id="ycl"><path d="M393.3 231.6 H466.1 V244.8 H477.6 V259.3 H506.3 V277.3 H533.5 V288.5 H541.8 V288.5 V357.1 H541.8 V357.1 H533.6 V350.7 H506.6 V335 H475.3 V317.1 H468.7 V308.3 H466.4 V301.5 H464.9 V285.4 H461.2 V272.9 H410.5 V257.8 H393.3 Z"/></clipPath>
<path d="M460.8 231.6 H486.2 V237.8 H496.0 V244.9 H541.3 V244.9 V317.2 H541.3 V317.2 H496.8 V307.4 H485.9 V285.4 H477.8 V273 H467.2 V258 H460.8 Z" fill="#bbd3c0" clip-path="url(#ycl)"/>
<path d="M393.3 231.6 V231.6 H460.8 V241.1 H467.5 V250.5 H477.0 V260.2 H485.8 V268.0 H487.4 V278.1 H496.3 V288.4 H541.8 V298.9" fill="none" stroke="#3f9fc9" stroke-width="1.4"/>
<path d="M393.3 231.6 V241.1 H410.5 V250.5 H461.3 V259.5 H465.0 V268.9 H466.5 V279.2 H468.6 V288.5 H475.4 V297.9 H477.2 V307.5 H506.3 V326.3 H533.7 V335.8 H541.8 V335.8" fill="none" stroke="#e8b410" stroke-width="1.4"/>
<line x1="541.8" y1="296.5" x2="541.8" y2="301.3" stroke="#3f9fc9" stroke-width="0.9" />
<line x1="539.6" y1="298.9" x2="544" y2="298.9" stroke="#3f9fc9" stroke-width="0.9" />
<line x1="541.3" y1="333.6" x2="541.3" y2="338" stroke="#e8b410" stroke-width="0.9" />
<line x1="539.1" y1="335.8" x2="543.5" y2="335.8" stroke="#e8b410" stroke-width="0.9" />
<line x1="477.2" y1="224.2" x2="477.2" y2="380.8" stroke="#ff4a4a" stroke-width="0.9" stroke-dasharray="1.3 1.7"/>
<rect x="386.6" y="224.2" width="156.79999999999995" height="156.60000000000002" fill="none" stroke="#7f7f7f" stroke-width="0.9"/>
<line x1="384.40000000000003" y1="373.9" x2="386.6" y2="373.9" stroke="#555" stroke-width="0.7" />
<text x="383.0" y="375.9" font-size="5.6" text-anchor="end" fill="#5a5a5a" font-weight="normal" font-style="normal"  >0.00</text>
<line x1="384.40000000000003" y1="338.325" x2="386.6" y2="338.325" stroke="#555" stroke-width="0.7" />
<text x="383.0" y="340.325" font-size="5.6" text-anchor="end" fill="#5a5a5a" font-weight="normal" font-style="normal"  >0.25</text>
<line x1="384.40000000000003" y1="302.75" x2="386.6" y2="302.75" stroke="#555" stroke-width="0.7" />
<text x="383.0" y="304.75" font-size="5.6" text-anchor="end" fill="#5a5a5a" font-weight="normal" font-style="normal"  >0.50</text>
<line x1="384.40000000000003" y1="267.17499999999995" x2="386.6" y2="267.17499999999995" stroke="#555" stroke-width="0.7" />
<text x="383.0" y="269.17499999999995" font-size="5.6" text-anchor="end" fill="#5a5a5a" font-weight="normal" font-style="normal"  >0.75</text>
<line x1="384.40000000000003" y1="231.59999999999997" x2="386.6" y2="231.59999999999997" stroke="#555" stroke-width="0.7" />
<text x="383.0" y="233.59999999999997" font-size="5.6" text-anchor="end" fill="#5a5a5a" font-weight="normal" font-style="normal"  >1.00</text>
<line x1="393.5" y1="380.8" x2="393.5" y2="383.0" stroke="#555" stroke-width="0.7" />
<text x="393.5" y="388.8" font-size="5.6" text-anchor="middle" fill="#5a5a5a" font-weight="normal" font-style="normal"  >0</text>
<line x1="429.32" y1="380.8" x2="429.32" y2="383.0" stroke="#555" stroke-width="0.7" />
<text x="429.32" y="388.8" font-size="5.6" text-anchor="middle" fill="#5a5a5a" font-weight="normal" font-style="normal"  >50</text>
<line x1="465.14" y1="380.8" x2="465.14" y2="383.0" stroke="#555" stroke-width="0.7" />
<text x="465.14" y="388.8" font-size="5.6" text-anchor="middle" fill="#5a5a5a" font-weight="normal" font-style="normal"  >100</text>
<line x1="500.96000000000004" y1="380.8" x2="500.96000000000004" y2="383.0" stroke="#555" stroke-width="0.7" />
<text x="500.96000000000004" y="388.8" font-size="5.6" text-anchor="middle" fill="#5a5a5a" font-weight="normal" font-style="normal"  >150</text>
<line x1="536.78" y1="380.8" x2="536.78" y2="383.0" stroke="#555" stroke-width="0.7" />
<text x="536.78" y="388.8" font-size="5.6" text-anchor="middle" fill="#5a5a5a" font-weight="normal" font-style="normal"  >200</text>
<text x="464.8" y="397.6" font-size="7.1" text-anchor="middle" fill="#1a1a1a" font-weight="normal" font-style="normal" stroke="#1a1a1a" stroke-width="0.25">Months</text>
<text x="0" y="0" font-size="7.05" text-anchor="middle" fill="#1a1a1a" font-weight="normal" font-style="normal" stroke="#1a1a1a" stroke-width="0.25" transform="translate(368.9 301.8) rotate(-90)">Cirrhosis probability</text>
<text x="408.2" y="212.0" font-size="7.0" text-anchor="start" fill="#1a1a1a" font-weight="normal" font-style="normal"  stroke="#1a1a1a" stroke-width="0.15">Strata</text>
<rect x="431.1" y="203.3" width="9.6" height="9.6" fill="#f8eab2"/>
<line x1="431.6" y1="208.1" x2="440.2" y2="208.1" stroke="#e8b410" stroke-width="1.2" />
<line x1="435.9" y1="206.3" x2="435.9" y2="209.9" stroke="#e8b410" stroke-width="0.8" />
<text x="445.0" y="211.0" font-size="5.7" text-anchor="start" fill="#1a1a1a" font-weight="normal" font-style="normal"  stroke="#1a1a1a" stroke-width="0.15">High CCL24</text>
<rect x="479.1" y="203.3" width="9.6" height="9.6" fill="#c0e2f5"/>
<line x1="479.6" y1="208.1" x2="488.2" y2="208.1" stroke="#3f9fc9" stroke-width="1.2" />
<line x1="483.9" y1="206.3" x2="483.9" y2="209.9" stroke="#3f9fc9" stroke-width="0.8" />
<text x="492.9" y="211.0" font-size="5.7" text-anchor="start" fill="#1a1a1a" font-weight="normal" font-style="normal"  stroke="#1a1a1a" stroke-width="0.15">Low CCL24</text>
</svg></body></html>
